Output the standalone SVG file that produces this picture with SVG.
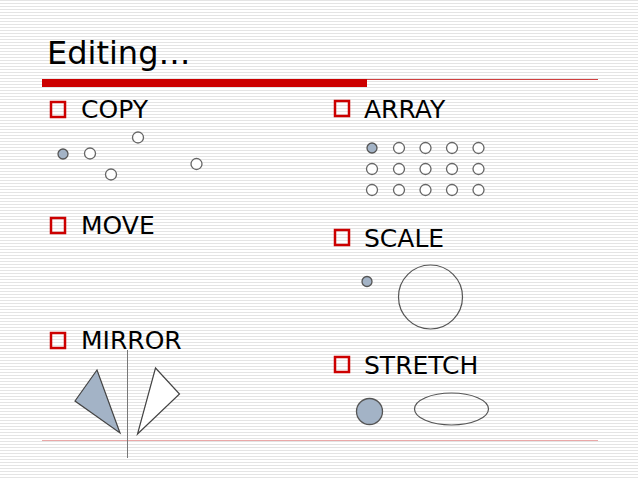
<svg xmlns="http://www.w3.org/2000/svg" width="638" height="478" viewBox="0 0 638 478">
<defs>
<pattern id="stripes" width="6" height="3" patternUnits="userSpaceOnUse">
<rect width="6" height="3" fill="#ffffff"/>
<rect y="0" width="6" height="1" fill="#e4e4e4"/>
</pattern>
</defs>
<style>
.t{font-family:"DejaVu Sans",Verdana,sans-serif;fill:#000}
.item{font-size:25px}
.bul{fill:none;stroke:#cc0000;stroke-width:2.5}
.f{fill:#a3b3c6;stroke:#555;stroke-width:1.3}
.h{fill:#fff;stroke:#666;stroke-width:1.3}
.hn{fill:none;stroke:#555;stroke-width:1.2}
</style>
<rect width="638" height="478" fill="url(#stripes)"/>
<g id="title">
<text class="t" x="47" y="64" font-size="32">Editing…</text>
<rect x="42" y="79" width="325" height="8" fill="#cc0000"/>
<rect x="367" y="79" width="231" height="1" fill="#d04040"/>
<rect x="42" y="440" width="556" height="1" fill="#eaa8a8"/>
</g>
<g id="copy">
<rect class="bul" x="51" y="102" width="14" height="15"/>
<text class="t item" x="81" y="118">COPY</text>
<circle class="f" cx="63" cy="154" r="5"/>
<circle class="h" cx="90" cy="153.5" r="5.5"/>
<circle class="h" cx="138" cy="137.5" r="5.5"/>
<circle class="h" cx="111" cy="174.5" r="5.5"/>
<circle class="h" cx="196.5" cy="164" r="5.5"/>
</g>
<g id="move">
<rect class="bul" x="51" y="218" width="14" height="15"/>
<text class="t item" x="81" y="234">MOVE</text>
</g>
<g id="mirror">
<rect class="bul" x="51" y="333" width="14" height="15"/>
<text class="t item" x="81" y="349">MIRROR</text>
<line x1="127.5" y1="350" x2="127.5" y2="458" stroke="#777" stroke-width="1"/>
<polygon points="97,370 75,401 120,433" fill="#a3b3c6" stroke="#444" stroke-width="1.2"/>
<polygon points="155.5,368 179.5,394 137.5,434" fill="#fff" stroke="#444" stroke-width="1.2"/>
</g>
<g id="array">
<rect class="bul" x="335" y="101" width="14" height="15"/>
<text class="t item" x="364" y="118">ARRAY</text>
<circle class="f" cx="372" cy="148" r="5"/>
<circle class="h" cx="399" cy="148" r="5.5"/>
<circle class="h" cx="425.5" cy="148" r="5.5"/>
<circle class="h" cx="452" cy="148" r="5.5"/>
<circle class="h" cx="478.5" cy="148" r="5.5"/>
<circle class="h" cx="372" cy="169" r="5.5"/>
<circle class="h" cx="399" cy="169" r="5.5"/>
<circle class="h" cx="425.5" cy="169" r="5.5"/>
<circle class="h" cx="452" cy="169" r="5.5"/>
<circle class="h" cx="478.5" cy="169" r="5.5"/>
<circle class="h" cx="372" cy="190" r="5.5"/>
<circle class="h" cx="399" cy="190" r="5.5"/>
<circle class="h" cx="425.5" cy="190" r="5.5"/>
<circle class="h" cx="452" cy="190" r="5.5"/>
<circle class="h" cx="478.5" cy="190" r="5.5"/>
</g>
<g id="scale">
<rect class="bul" x="335" y="230" width="14" height="15"/>
<text class="t item" x="364" y="247">SCALE</text>
<circle class="f" cx="367" cy="281.5" r="5"/>
<circle class="hn" cx="430.5" cy="297" r="32"/>
</g>
<g id="stretch">
<rect class="bul" x="335" y="357" width="14" height="15"/>
<text class="t item" x="364" y="374">STRETCH</text>
<circle class="f" cx="369.5" cy="411.5" r="13"/>
<ellipse class="hn" cx="451.5" cy="409" rx="37" ry="16"/>
</g>
</svg>
